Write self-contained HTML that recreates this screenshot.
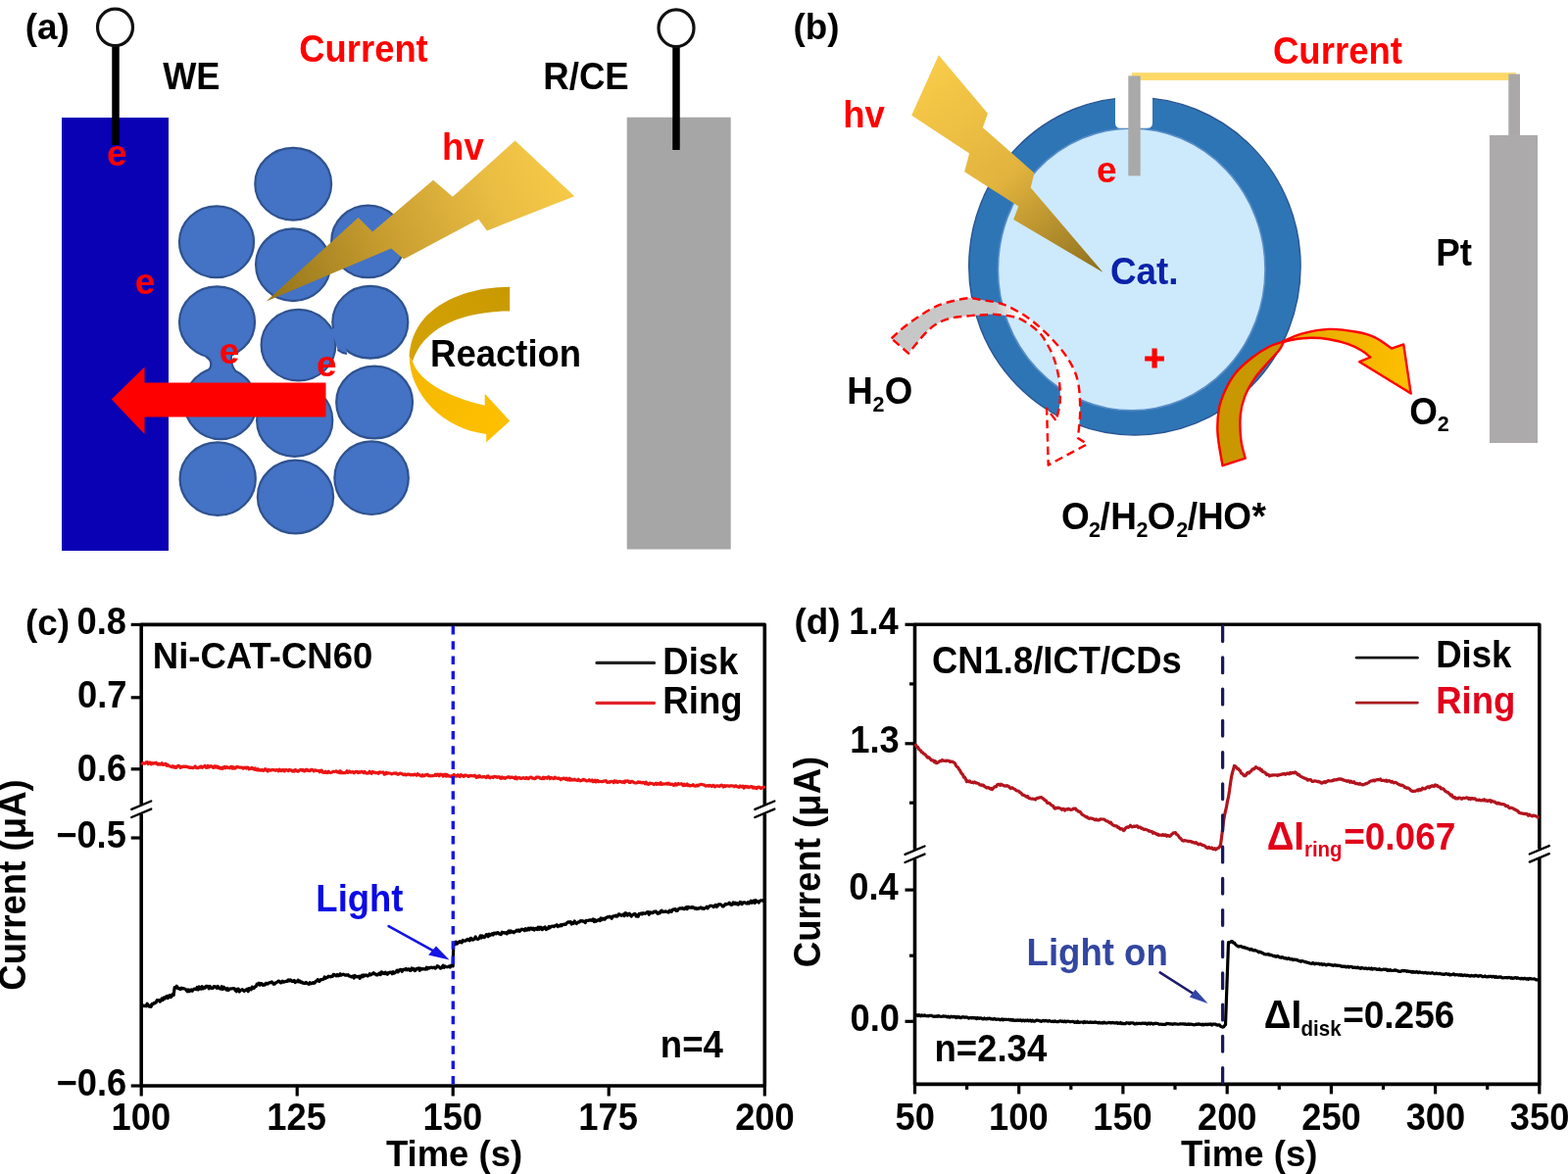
<!DOCTYPE html>
<html><head><meta charset="utf-8"><title>Figure</title>
<style>html,body{margin:0;padding:0;background:#fff;width:1600px;height:1198px;overflow:hidden}svg{display:block;filter:blur(0.35px)}</style>
</head><body>
<svg width="1600" height="1198" viewBox="0 0 1600 1198" font-family="'Liberation Sans', Arial, sans-serif" font-weight="bold">
<rect width="1600" height="1198" fill="#fff"/>
<defs><linearGradient id="boltA" x1="272" y1="300" x2="586" y2="170" gradientUnits="userSpaceOnUse"><stop offset="0" stop-color="#94741a"/><stop offset="0.4" stop-color="#c99e30"/><stop offset="0.75" stop-color="#eabd43"/><stop offset="1" stop-color="#f8cb48"/></linearGradient><linearGradient id="boltB" x1="958" y1="60" x2="1125" y2="278" gradientUnits="userSpaceOnUse"><stop offset="0" stop-color="#f8cb48"/><stop offset="0.5" stop-color="#e2b33e"/><stop offset="1" stop-color="#8c6f1e"/></linearGradient><linearGradient id="orgB" x1="1310" y1="345" x2="1440" y2="380" gradientUnits="userSpaceOnUse"><stop offset="0" stop-color="#e3a800"/><stop offset="1" stop-color="#ffc000"/></linearGradient><linearGradient id="grayB" x1="905" y1="340" x2="1070" y2="330" gradientUnits="userSpaceOnUse"><stop offset="0" stop-color="#c6c6c6"/><stop offset="0.68" stop-color="#c9c9c9"/><stop offset="0.82" stop-color="#ffffff"/><stop offset="1" stop-color="#ffffff"/></linearGradient><linearGradient id="reactUp" x1="520" y1="300" x2="418" y2="365" gradientUnits="userSpaceOnUse"><stop offset="0" stop-color="#c99a00"/><stop offset="1" stop-color="#d4a206"/></linearGradient><linearGradient id="reactLo" x1="418" y1="370" x2="520" y2="440" gradientUnits="userSpaceOnUse"><stop offset="0" stop-color="#f5b800"/><stop offset="1" stop-color="#ffc000"/></linearGradient></defs>
<rect x="63" y="120" width="109" height="442" fill="#0a00b4"/>
<line x1="118" y1="46" x2="118" y2="148" stroke="#000" stroke-width="7.5"/>
<ellipse cx="117.5" cy="27.8" rx="18" ry="18.7" fill="#fff" stroke="#111" stroke-width="3.2"/>
<rect x="639.7" y="119.7" width="106" height="440.8" fill="#a6a6a6"/>
<line x1="690" y1="48" x2="690" y2="153" stroke="#000" stroke-width="7.5"/>
<ellipse cx="690" cy="28.7" rx="18" ry="18.8" fill="#fff" stroke="#111" stroke-width="3.2"/>
<ellipse cx="299.2" cy="187.7" rx="38.9" ry="36.9" fill="#4472c4" stroke="#2f528f" stroke-width="2.2"/>
<ellipse cx="221" cy="246.8" rx="38.0" ry="36.4" fill="#4472c4" stroke="#2f528f" stroke-width="2.2"/>
<ellipse cx="299.1" cy="270.2" rx="38.0" ry="36.9" fill="#4472c4" stroke="#2f528f" stroke-width="2.2"/>
<ellipse cx="375.6" cy="246.4" rx="37.4" ry="36.8" fill="#4472c4" stroke="#2f528f" stroke-width="2.2"/>
<ellipse cx="221.5" cy="328.8" rx="38.5" ry="36.4" fill="#4472c4" stroke="#2f528f" stroke-width="2.2"/>
<ellipse cx="304.5" cy="352.1" rx="37.9" ry="36.3" fill="#4472c4" stroke="#2f528f" stroke-width="2.2"/>
<ellipse cx="377.8" cy="328.8" rx="38.5" ry="36.9" fill="#4472c4" stroke="#2f528f" stroke-width="2.2"/>
<ellipse cx="225.1" cy="411.8" rx="36.7" ry="36.4" fill="#4472c4" stroke="#2f528f" stroke-width="2.2"/>
<ellipse cx="300.7" cy="428.9" rx="38.6" ry="36.9" fill="#4472c4" stroke="#2f528f" stroke-width="2.2"/>
<ellipse cx="382.1" cy="410.5" rx="38.9" ry="36.9" fill="#4472c4" stroke="#2f528f" stroke-width="2.2"/>
<ellipse cx="222.2" cy="488.6" rx="38.6" ry="37.3" fill="#4472c4" stroke="#2f528f" stroke-width="2.2"/>
<ellipse cx="301.5" cy="507" rx="38.6" ry="37.3" fill="#4472c4" stroke="#2f528f" stroke-width="2.2"/>
<ellipse cx="379.1" cy="487.7" rx="37.7" ry="37.3" fill="#4472c4" stroke="#2f528f" stroke-width="2.2"/>
<path d="M210,363.5 Q219,370 213,377.4 L215,383 L238,383 L240,378.5 Q235,371 236,362.5 L234,357 L212,357 Z" fill="#4472c4"/>
<path d="M210,363.5 Q219,370 213,377.4 M240,378.5 Q235,371 236,362.5" fill="none" stroke="#2f528f" stroke-width="2.2"/>
<path d="M337,336 L342.5,350 L344.5,357 Q349,360 354,361 L352,345 L347,333 Z" fill="#4472c4"/>
<path d="M344.5,357 Q349,360.5 354,361" fill="none" stroke="#2f528f" stroke-width="2.2"/>
<polygon points="271.7,307.4 365.6,222.0 380.1,236.4 442.1,183.7 461.9,200.7 525.6,143.4 586.2,200.3 496.9,235.4 488.4,223.7 411.9,264.5 399.2,253.4" fill="url(#boltA)"/>
<polygon points="113.8,407.5 147.5,374.5 147.5,390.5 332.5,390.5 332.5,425.5 147.5,425.5 147.5,443" fill="#ff0000"/>
<path d="M520.2,292.8 C470,293 420,315 417.7,364.1 L421,368.7 C432,335 470,317.6 520.2,317.6 Z" fill="url(#reactUp)"/>
<path d="M417.7,364.1 C418,402 452,438 496.2,443 L496.2,451.3 L520.2,429.5 L494.7,401.7 L494.7,413.7 C458,405 428,390 421,368.7 Z" fill="url(#reactLo)"/>
<text transform="translate(25.77,40.00) scale(1,1.0)" font-size="36.8" fill="#000">(a)</text>
<text transform="translate(166.16,91.30) scale(1,1.05)" font-size="36.2" fill="#000">WE</text>
<text transform="translate(305.31,62.60) scale(1,1.05)" font-size="36.4" fill="#ff0000">Current</text>
<text transform="translate(554.35,91.30) scale(1,1.05)" font-size="36.6" fill="#000">R/CE</text>
<text transform="translate(451.04,162.50) scale(1,1.05)" font-size="36.6" fill="#ff0000">hv</text>
<text transform="translate(439.06,374.00) scale(1,1.05)" font-size="36.5" fill="#000">Reaction</text>
<text transform="translate(109.05,168.50) scale(1,1.0)" font-size="37" fill="#ff0000">e</text>
<text transform="translate(137.75,299.50) scale(1,1.0)" font-size="37" fill="#ff0000">e</text>
<text transform="translate(223.85,371.00) scale(1,1.0)" font-size="37" fill="#ff0000">e</text>
<text transform="translate(323.05,383.50) scale(1,1.0)" font-size="37" fill="#ff0000">e</text>
<ellipse cx="1157.9" cy="271.7" rx="169.2" ry="172.3" fill="#2e75b6" stroke="#2a5592" stroke-width="1.4"/>
<ellipse cx="1154.7" cy="274.9" rx="136.3" ry="143.9" fill="#cde9fc" stroke="#5a8ec6" stroke-width="1.6"/>
<path d="M1138,95 L1138,125 Q1138,130.8 1143,130.8 L1171,130.8 Q1176,130.8 1176,125 L1176,95 Z" fill="#fff"/>
<rect x="1155" y="74.2" width="392" height="7.7" fill="#ffd966"/>
<rect x="1151.3" y="77.4" width="12.4" height="102" fill="#a9a9a9"/>
<rect x="1539.3" y="75.6" width="11.7" height="63" fill="#aaa8a8"/>
<rect x="1520" y="138" width="49" height="314" fill="#acaaaa"/>
<polygon points="957.8,56.3 1007.9,115.7 1002.9,130.2 1055.4,176.6 1051.7,191.6 1125.6,278.0 1034.2,224.1 1039.2,210.4 984.1,175.3 989.1,156.5 930.2,117.7" fill="url(#boltB)"/>
<path d="M909.6,345.4 C912.5,342.9 919.5,335.6 927.1,330.2 C934.7,324.8 945.5,317.0 955.2,312.7 C964.9,308.4 978.0,305.6 985.5,304.5 C993.0,303.4 993.6,304.8 1000.0,305.8 C1006.4,306.8 1015.9,307.7 1023.8,310.6 C1031.7,313.5 1040.4,318.6 1047.5,323.3 C1054.6,328.1 1060.5,333.3 1066.6,339.1 C1072.7,344.9 1079.2,352.0 1084.0,358.1 C1088.8,364.2 1092.3,369.8 1095.1,375.6 C1097.9,381.4 1099.4,386.1 1100.6,393.0 C1101.8,399.9 1102.1,410.2 1102.2,416.8 C1102.3,423.4 1101.8,427.6 1101.4,432.6 C1101.0,437.6 1100.1,444.5 1099.8,446.9 L1109.4,453.2 L1069.7,474.6 L1068.1,416.8 L1077.7,429.5 C1078.3,426.3 1081.1,417.3 1081.6,410.4 C1082.1,403.5 1081.7,395.4 1080.8,388.3 C1079.9,381.2 1078.2,374.1 1076.1,367.7 C1074.0,361.3 1071.0,355.2 1068.1,350.2 C1065.2,345.2 1063.3,341.7 1058.6,337.5 C1053.8,333.3 1046.7,327.7 1039.6,324.9 C1032.5,322.1 1022.4,321.4 1015.8,320.9 C1009.2,320.4 1004.3,321.5 1000.0,321.7 C995.7,321.9 995.7,321.5 990.2,322.1 C984.7,322.8 973.8,323.3 966.8,325.6 C959.8,327.9 954.8,330.3 948.2,336.1 C941.6,341.9 930.6,356.5 927.1,360.6 Z" fill="url(#grayB)" stroke="#ff0000" stroke-width="2.4" stroke-dasharray="8.5 5" stroke-linejoin="round"/>
<path d="M1247.5,475.2 C1246.7,469.8 1243.1,452.2 1242.5,442.6 C1241.9,433.0 1242.5,424.9 1243.8,417.6 C1245.0,410.3 1247.1,405.1 1250.0,398.8 C1252.9,392.6 1256.7,385.7 1261.3,380.1 C1265.9,374.5 1272.0,369.4 1277.6,365.0 C1283.2,360.6 1289.7,356.6 1295.1,353.8 C1300.5,351.1 1307.5,349.4 1310.0,348.5 C1309.2,350.0 1308.0,353.7 1305.1,357.5 C1302.2,361.3 1296.8,366.5 1292.6,371.3 C1288.4,376.1 1283.9,380.7 1280.1,386.3 C1276.3,391.9 1272.4,398.8 1270.0,405.1 C1267.6,411.4 1266.3,416.6 1265.7,423.9 C1265.1,431.2 1265.5,441.6 1266.3,448.9 C1267.1,456.2 1270.0,464.6 1270.7,467.7 Z" fill="#c99700" stroke="#ff0000" stroke-width="2.4" stroke-linejoin="round"/>
<path d="M1309.4,348.1 C1312.5,346.9 1320.3,342.6 1328.1,340.6 C1335.9,338.6 1346.8,336.2 1356.2,335.9 C1365.6,335.6 1376.6,337.3 1384.4,338.8 C1392.2,340.2 1397.2,341.6 1403.1,344.4 C1409.0,347.2 1417.2,353.7 1420.0,355.6 L1432.2,351.4 L1439.7,401.6 L1387.2,369.2 L1398.4,364.5 C1396.9,363.3 1393.0,359.8 1389.1,357.5 C1385.2,355.2 1380.5,352.8 1375.0,350.9 C1369.5,349.0 1362.5,347.3 1356.2,346.2 C1350.0,345.2 1343.7,344.7 1337.5,344.8 C1331.3,344.9 1323.4,346.0 1318.8,346.7 C1314.1,347.4 1311.0,348.6 1309.4,349.0 Z" fill="url(#orgB)" stroke="#ff0000" stroke-width="2.4" stroke-linejoin="round"/>
<text transform="translate(809.57,40.00) scale(1,1.0)" font-size="36.8" fill="#000">(b)</text>
<text transform="translate(860.24,129.70) scale(1,1.05)" font-size="36.6" fill="#ff0000">hv</text>
<text transform="translate(1298.90,64.90) scale(1,1.05)" font-size="36.6" fill="#ff0000">Current</text>
<text transform="translate(1119.05,186.20) scale(1,1.0)" font-size="37" fill="#ff0000">e</text>
<text transform="translate(1132.99,289.70) scale(1,1.05)" font-size="36.8" fill="#0b22aa">Cat.</text>
<text x="1167.25" y="378.0" font-size="37" fill="#ff0000" stroke="#ff0000" stroke-width="1.1">+</text>
<text transform="translate(1465.24,270.50) scale(1,1.05)" font-size="36.8" fill="#000">Pt</text>
<text transform="translate(864.34,412.00) scale(1,1.05)" font-size="36.7" fill="#000">H</text>
<text transform="translate(890.55,419.70) scale(1,1.05)" font-size="21.5" fill="#000">2</text>
<text transform="translate(902.69,412.00) scale(1,1.05)" font-size="36.7" fill="#000">O</text>
<text transform="translate(1438.29,433.40) scale(1,1.05)" font-size="36.8" fill="#000">O</text>
<text transform="translate(1466.65,440.40) scale(1,1.05)" font-size="21.5" fill="#000">2</text>
<text transform="translate(1082.88,539.90) scale(1,1.05)" font-size="37" fill="#000">O</text>
<text transform="translate(1111.05,547.90) scale(1,1.05)" font-size="21.5" fill="#000">2</text>
<text transform="translate(1122.44,539.90) scale(1,1.05)" font-size="37" fill="#000">/</text>
<text transform="translate(1133.32,539.90) scale(1,1.05)" font-size="37" fill="#000">H</text>
<text transform="translate(1159.55,547.90) scale(1,1.05)" font-size="21.5" fill="#000">2</text>
<text transform="translate(1170.78,539.90) scale(1,1.05)" font-size="37" fill="#000">O</text>
<text transform="translate(1200.35,547.90) scale(1,1.05)" font-size="21.5" fill="#000">2</text>
<text transform="translate(1211.74,539.90) scale(1,1.05)" font-size="37" fill="#000">/</text>
<text transform="translate(1221.92,539.90) scale(1,1.05)" font-size="37" fill="#000">H</text>
<text transform="translate(1248.18,539.90) scale(1,1.05)" font-size="37" fill="#000">O</text>
<text transform="translate(1277.59,539.90) scale(1,1.05)" font-size="37" fill="#000">*</text>
<path d="M144.2,1108 L144.2,637.4 L780.3,637.4 L780.3,1108 Z" fill="none" stroke="#000" stroke-width="3.6" stroke-linejoin="round"/>
<g stroke="#000" stroke-width="3.2" fill="none">
<line x1="144.2" y1="1108" x2="144.2" y2="1118.5"/>
<line x1="303.2" y1="1108" x2="303.2" y2="1118.5"/>
<line x1="462.2" y1="1108" x2="462.2" y2="1118.5"/>
<line x1="621.2" y1="1108" x2="621.2" y2="1118.5"/>
<line x1="780.3" y1="1108" x2="780.3" y2="1118.5"/>
<line x1="133.7" y1="637.4" x2="144.2" y2="637.4"/>
<line x1="133.7" y1="711.8" x2="144.2" y2="711.8"/>
<line x1="133.7" y1="784.8" x2="144.2" y2="784.8"/>
<line x1="133.7" y1="855" x2="144.2" y2="855"/>
<line x1="133.7" y1="1108" x2="144.2" y2="1108"/>
</g>
<line x1="144.2" y1="820.9" x2="144.2" y2="830.4" stroke="#fff" stroke-width="5"/>
<g stroke="#000" stroke-width="2.4" stroke-linecap="round"><line x1="134.2" y1="825.9" x2="154.2" y2="817.5"/><line x1="134.2" y1="834.0" x2="154.2" y2="825.6"/></g>
<line x1="780.3" y1="820.9" x2="780.3" y2="830.4" stroke="#fff" stroke-width="5"/>
<g stroke="#000" stroke-width="2.4" stroke-linecap="round"><line x1="770.3" y1="825.9" x2="790.3" y2="817.5"/><line x1="770.3" y1="834.0" x2="790.3" y2="825.6"/></g>
<text transform="translate(113.52,1152.70) scale(1,1.05)" font-size="36.3" fill="#000">100</text>
<text transform="translate(272.28,1152.70) scale(1,1.05)" font-size="36.3" fill="#000">125</text>
<text transform="translate(431.52,1152.70) scale(1,1.05)" font-size="36.3" fill="#000">150</text>
<text transform="translate(590.28,1152.70) scale(1,1.05)" font-size="36.3" fill="#000">175</text>
<text transform="translate(750.13,1152.70) scale(1,1.05)" font-size="36.3" fill="#000">200</text>
<text transform="translate(78.55,646.80) scale(1,1.05)" font-size="36.3" fill="#000">0.8</text>
<text transform="translate(79.03,722.00) scale(1,1.05)" font-size="36.3" fill="#000">0.7</text>
<text transform="translate(78.75,797.00) scale(1,1.05)" font-size="36.3" fill="#000">0.6</text>
<text transform="translate(57.25,865.30) scale(1,1.05)" font-size="36.3" fill="#000">−0.5</text>
<text transform="translate(57.55,1118.10) scale(1,1.05)" font-size="36.3" fill="#000">−0.6</text>
<text transform="translate(25.97,647.50) scale(1,1.0)" font-size="36.8" fill="#000">(c)</text>
<text transform="translate(155.86,681.50) scale(1,1.02)" font-size="36.5" fill="#000">Ni-CAT-CN60</text>
<text transform="translate(676.37,687.70) scale(1,1.05)" font-size="36.4" fill="#000">Disk</text>
<text transform="translate(676.35,728.20) scale(1,1.05)" font-size="36.6" fill="#000">Ring</text>
<line x1="609" y1="676.4" x2="667.5" y2="676.4" stroke="#222" stroke-width="3.2" stroke-linecap="round"/>
<line x1="609" y1="717.3" x2="667.5" y2="717.3" stroke="#e22228" stroke-width="3.2" stroke-linecap="round"/>
<text transform="translate(673.79,1079.30) scale(1,1.05)" font-size="36.6" fill="#000">n=4</text>
<text transform="translate(322.36,930.20) scale(1,1.05)" font-size="36.5" fill="#0a0ae6">Light</text>
<text transform="translate(393.89,1190.00) scale(1,1.02)" font-size="36.5" fill="#000">Time (s)</text>
<text transform="translate(26.3,903) rotate(-90) scale(1,1.05)" font-size="36.6" text-anchor="middle" fill="#000">Current (μA)</text>
<polyline points="144.2,778.4 145.2,779.1 146.2,778.6 147.2,779.1 148.2,779.1 149.2,777.9 150.2,777.7 151.2,779.5 152.2,778.2 153.2,778.1 154.2,779.8 155.2,778.6 156.2,779.3 157.2,778.6 158.2,779.1 159.2,778.2 160.2,779.4 161.2,780.1 162.2,779.4 163.2,780.1 164.2,780.0 165.2,778.8 166.2,780.5 167.2,780.3 168.2,779.8 169.2,779.3 170.2,781.3 171.2,780.6 172.2,781.4 173.2,782.0 174.2,782.0 175.2,782.7 176.2,781.8 177.2,783.0 178.2,782.2 179.2,783.3 180.2,783.2 181.2,781.5 182.2,781.6 183.2,781.8 184.2,783.4 185.2,782.3 186.2,782.7 187.2,782.0 188.2,782.5 189.2,782.2 190.2,782.2 191.2,782.7 192.2,782.7 193.2,783.4 194.2,783.0 195.2,783.5 196.2,783.4 197.2,783.7 198.2,783.0 199.2,781.9 200.2,783.5 201.2,783.7 202.2,783.6 203.2,782.8 204.2,783.1 205.2,781.9 206.2,783.3 207.2,782.7 208.2,782.0 209.2,781.5 210.2,783.2 211.2,783.4 212.2,781.4 213.2,783.0 214.2,782.2 215.2,781.7 216.2,782.1 217.2,783.2 218.2,783.5 219.2,781.8 220.2,783.1 221.2,781.9 222.2,783.5 223.2,782.7 224.2,784.0 225.2,784.2 226.2,783.3 227.2,784.4 228.2,783.0 229.2,782.5 230.2,783.7 231.2,782.6 232.2,783.0 233.2,783.5 234.2,783.8 235.2,782.7 236.2,782.4 237.2,784.1 238.2,782.8 239.2,784.1 240.2,783.9 241.2,782.6 242.2,782.7 243.2,782.8 244.2,783.1 245.2,783.1 246.2,783.1 247.2,783.4 248.2,784.2 249.2,783.3 250.2,783.2 251.2,784.0 252.2,783.0 253.2,783.2 254.2,784.9 255.2,784.1 256.2,784.4 257.2,783.4 258.2,784.5 259.2,785.0 260.2,784.0 261.2,785.5 262.2,785.8 263.2,784.7 264.2,786.1 265.2,785.7 266.2,786.2 267.2,785.5 268.2,786.3 269.2,786.4 270.2,784.8 271.2,784.9 272.2,786.3 273.2,787.0 274.2,785.4 275.2,785.9 276.2,786.2 277.2,785.6 278.2,785.7 279.2,785.6 280.2,785.8 281.2,786.3 282.2,785.6 283.2,785.8 284.2,786.7 285.2,785.1 286.2,786.3 287.2,786.7 288.2,785.7 289.2,785.6 290.2,786.9 291.2,785.6 292.2,785.5 293.2,786.1 294.2,786.7 295.2,785.4 296.2,785.9 297.2,785.9 298.2,787.0 299.2,786.2 300.2,787.1 301.2,785.6 302.2,786.0 303.2,786.7 304.2,787.2 305.2,786.3 306.2,785.7 307.2,785.4 308.2,786.3 309.2,785.5 310.2,786.8 311.2,786.8 312.2,785.3 313.2,785.4 314.2,786.5 315.2,786.1 316.2,786.6 317.2,785.6 318.2,785.3 319.2,785.7 320.2,786.9 321.2,785.9 322.2,786.1 323.2,786.4 324.2,786.5 325.2,786.6 326.2,787.8 327.2,786.2 328.2,786.0 329.2,788.1 330.2,788.1 331.2,788.4 332.2,787.3 333.2,788.5 334.2,788.6 335.2,787.1 336.2,788.3 337.2,788.5 338.2,788.2 339.2,787.8 340.2,787.3 341.2,787.5 342.2,787.2 343.2,786.8 344.2,788.0 345.2,787.3 346.2,788.5 347.2,786.8 348.2,788.7 349.2,788.2 350.2,788.7 351.2,788.7 352.2,788.7 353.2,788.0 354.2,786.7 355.2,788.3 356.2,787.1 357.2,787.4 358.2,788.2 359.2,787.9 360.2,787.6 361.2,788.8 362.2,788.0 363.2,787.5 364.2,787.3 365.2,788.6 366.2,787.7 367.2,788.4 368.2,787.5 369.2,787.3 370.2,788.1 371.2,788.7 372.2,787.4 373.2,788.8 374.2,789.1 375.2,788.9 376.2,789.0 377.2,787.3 378.2,788.7 379.2,789.3 380.2,787.5 381.2,788.1 382.2,788.1 383.2,788.7 384.2,788.6 385.2,788.7 386.2,789.4 387.2,787.8 388.2,788.0 389.2,788.2 390.2,788.2 391.2,788.1 392.2,790.2 393.2,790.0 394.2,788.3 395.2,789.3 396.2,788.9 397.2,789.0 398.2,789.1 399.2,789.8 400.2,789.7 401.2,789.3 402.2,788.9 403.2,789.3 404.2,788.9 405.2,789.9 406.2,790.3 407.2,789.6 408.2,789.0 409.2,789.2 410.2,789.7 411.2,790.3 412.2,790.7 413.2,789.9 414.2,790.9 415.2,790.5 416.2,790.1 417.2,790.1 418.2,790.4 419.2,790.9 420.2,790.3 421.2,791.0 422.2,790.5 423.2,790.1 424.2,790.8 425.2,791.2 426.2,789.8 427.2,790.7 428.2,790.7 429.2,791.7 430.2,791.9 431.2,790.7 432.2,791.8 433.2,791.6 434.2,790.5 435.2,790.9 436.2,790.2 437.2,791.7 438.2,791.4 439.2,791.9 440.2,791.7 441.2,791.5 442.2,791.6 443.2,791.3 444.2,790.3 445.2,791.3 446.2,790.1 447.2,790.4 448.2,791.8 449.2,790.2 450.2,790.3 451.2,790.4 452.2,792.1 453.2,790.6 454.2,790.2 455.2,792.1 456.2,790.5 457.2,792.1 458.2,791.7 459.2,792.1 460.2,792.4 461.2,791.6 462.2,792.1 463.2,790.4 464.2,792.0 465.2,791.5 466.2,792.0 467.2,790.7 468.2,792.1 469.2,792.5 470.2,790.6 471.2,791.2 472.2,791.8 473.2,792.4 474.2,791.1 475.2,791.0 476.2,791.2 477.2,792.0 478.2,792.4 479.2,791.6 480.2,791.6 481.2,791.7 482.2,791.7 483.2,791.9 484.2,791.2 485.2,792.2 486.2,793.3 487.2,792.1 488.2,792.9 489.2,791.6 490.2,792.8 491.2,793.0 492.2,792.9 493.2,792.6 494.2,792.6 495.2,793.0 496.2,793.6 497.2,792.0 498.2,791.9 499.2,793.4 500.2,793.8 501.2,793.0 502.2,792.9 503.2,793.5 504.2,792.4 505.2,792.6 506.2,792.5 507.2,793.4 508.2,792.9 509.2,792.7 510.2,793.8 511.2,794.4 512.2,793.0 513.2,794.0 514.2,793.4 515.2,794.4 516.2,793.9 517.2,793.2 518.2,793.1 519.2,792.7 520.2,793.7 521.2,793.4 522.2,793.0 523.2,793.4 524.2,793.3 525.2,794.3 526.2,792.9 527.2,794.8 528.2,793.7 529.2,793.9 530.2,793.6 531.2,794.4 532.2,794.4 533.2,793.8 534.2,793.7 535.2,794.2 536.2,794.5 537.2,793.5 538.2,794.2 539.2,794.7 540.2,793.6 541.2,793.1 542.2,793.1 543.2,794.2 544.2,794.1 545.2,794.7 546.2,794.5 547.2,793.1 548.2,793.0 549.2,793.2 550.2,793.0 551.2,794.2 552.2,794.5 553.2,794.6 554.2,793.2 555.2,794.5 556.2,793.3 557.2,793.5 558.2,794.2 559.2,792.9 560.2,792.9 561.2,794.6 562.2,793.5 563.2,793.7 564.2,794.3 565.2,794.6 566.2,793.1 567.2,793.9 568.2,794.2 569.2,794.4 570.2,793.9 571.2,794.7 572.2,795.6 573.2,794.4 574.2,794.9 575.2,794.0 576.2,794.4 577.2,795.3 578.2,794.2 579.2,795.9 580.2,796.0 581.2,794.3 582.2,796.2 583.2,795.1 584.2,796.0 585.2,796.0 586.2,795.1 587.2,796.0 588.2,796.0 589.2,796.4 590.2,795.3 591.2,796.4 592.2,796.9 593.2,796.4 594.2,796.1 595.2,795.3 596.2,796.2 597.2,795.9 598.2,796.8 599.2,796.8 600.2,796.6 601.2,795.8 602.2,796.9 603.2,796.9 604.2,796.0 605.2,797.7 606.2,797.2 607.2,796.1 608.2,797.9 609.2,796.3 610.2,796.8 611.2,797.7 612.2,797.5 613.2,797.5 614.2,797.7 615.2,797.4 616.2,797.1 617.2,796.9 618.2,796.7 619.2,798.2 620.2,798.4 621.2,797.9 622.2,798.3 623.2,797.5 624.2,797.3 625.2,797.5 626.2,798.6 627.2,796.8 628.2,797.8 629.2,797.2 630.2,798.4 631.2,797.5 632.2,797.4 633.2,797.6 634.2,797.9 635.2,798.4 636.2,797.5 637.2,798.6 638.2,796.9 639.2,797.3 640.2,796.9 641.2,797.0 642.2,798.5 643.2,798.5 644.2,797.4 645.2,797.4 646.2,798.0 647.2,798.8 648.2,799.0 649.2,799.0 650.2,798.7 651.2,797.8 652.2,798.4 653.2,798.0 654.2,798.8 655.2,799.0 656.2,798.3 657.2,798.5 658.2,799.7 659.2,798.1 660.2,799.9 661.2,800.2 662.2,800.3 663.2,799.1 664.2,799.5 665.2,799.6 666.2,799.8 667.2,800.6 668.2,800.0 669.2,799.2 670.2,800.4 671.2,799.6 672.2,799.9 673.2,800.3 674.2,798.7 675.2,800.4 676.2,800.2 677.2,799.9 678.2,800.0 679.2,799.9 680.2,799.4 681.2,800.1 682.2,799.1 683.2,800.2 684.2,800.5 685.2,800.1 686.2,800.4 687.2,801.3 688.2,801.2 689.2,799.6 690.2,801.1 691.2,800.7 692.2,799.5 693.2,800.2 694.2,800.0 695.2,799.7 696.2,800.7 697.2,801.6 698.2,800.3 699.2,801.6 700.2,801.2 701.2,800.0 702.2,801.7 703.2,801.2 704.2,801.9 705.2,801.5 706.2,801.6 707.2,800.7 708.2,801.8 709.2,802.1 710.2,802.0 711.2,801.1 712.2,801.9 713.2,801.3 714.2,800.5 715.2,800.4 716.2,800.5 717.2,800.8 718.2,800.8 719.2,801.6 720.2,802.1 721.2,801.8 722.2,801.5 723.2,802.1 724.2,801.4 725.2,801.8 726.2,802.4 727.2,801.7 728.2,801.3 729.2,802.9 730.2,802.5 731.2,801.8 732.2,801.8 733.2,802.2 734.2,802.4 735.2,801.6 736.2,801.2 737.2,801.7 738.2,803.0 739.2,801.6 740.2,802.4 741.2,801.8 742.2,801.9 743.2,801.9 744.2,802.4 745.2,801.9 746.2,801.7 747.2,801.9 748.2,802.0 749.2,802.8 750.2,801.9 751.2,801.8 752.2,802.8 753.2,802.8 754.2,803.4 755.2,802.0 756.2,802.9 757.2,802.9 758.2,802.1 759.2,804.2 760.2,802.6 761.2,802.4 762.2,803.2 763.2,802.6 764.2,803.7 765.2,803.1 766.2,802.6 767.2,802.5 768.2,804.0 769.2,803.1 770.2,804.2 771.2,803.6 772.2,804.6 773.2,803.3 774.2,803.2 775.2,803.3 776.2,804.5 777.2,804.2 778.2,803.6 779.2,803.1 780.2,804.4" fill="none" stroke="#ec1414" stroke-width="3.2" stroke-linejoin="round" />
<polyline points="144.2,1025.4 145.2,1025.8 146.2,1026.1 147.2,1026.6 148.2,1026.1 149.2,1026.8 150.2,1024.2 151.2,1025.6 152.2,1027.1 153.2,1026.3 154.2,1027.2 155.2,1024.3 156.2,1024.7 157.2,1023.4 158.2,1023.6 159.2,1023.0 160.2,1020.7 161.2,1020.8 162.2,1020.6 163.2,1022.1 164.2,1021.2 165.2,1018.9 166.2,1020.4 167.2,1018.0 168.2,1019.1 169.2,1017.2 170.2,1016.4 171.2,1018.6 172.2,1016.2 173.2,1015.7 174.2,1017.6 175.2,1016.7 176.2,1014.5 177.2,1015.4 178.2,1007.5 179.2,1007.8 180.2,1006.3 181.2,1008.3 182.2,1008.0 183.2,1009.2 184.2,1009.5 185.2,1008.1 186.2,1008.8 187.2,1008.6 188.2,1009.0 189.2,1009.2 190.2,1010.4 191.2,1011.7 192.2,1009.9 193.2,1011.7 194.2,1010.3 195.2,1009.9 196.2,1011.2 197.2,1009.9 198.2,1009.1 199.2,1009.3 200.2,1009.6 201.2,1007.4 202.2,1009.9 203.2,1007.0 204.2,1009.0 205.2,1009.2 206.2,1006.7 207.2,1008.9 208.2,1007.5 209.2,1008.1 210.2,1006.3 211.2,1006.3 212.2,1006.6 213.2,1008.8 214.2,1006.5 215.2,1008.1 216.2,1008.5 217.2,1008.4 218.2,1006.6 219.2,1006.7 220.2,1007.3 221.2,1008.2 222.2,1006.4 223.2,1008.4 224.2,1008.7 225.2,1009.1 226.2,1006.7 227.2,1009.6 228.2,1007.2 229.2,1008.1 230.2,1009.1 231.2,1010.1 232.2,1008.5 233.2,1010.4 234.2,1009.4 235.2,1008.9 236.2,1009.0 237.2,1008.7 238.2,1008.6 239.2,1008.9 240.2,1010.7 241.2,1011.7 242.2,1009.4 243.2,1009.1 244.2,1012.0 245.2,1010.6 246.2,1010.2 247.2,1009.7 248.2,1010.8 249.2,1011.5 250.2,1010.4 251.2,1010.3 252.2,1009.2 253.2,1011.7 254.2,1008.6 255.2,1009.4 256.2,1009.8 257.2,1007.1 258.2,1008.3 259.2,1008.4 260.2,1006.8 261.2,1006.7 262.2,1004.1 263.2,1004.5 264.2,1003.2 265.2,1005.2 266.2,1003.5 267.2,1003.8 268.2,1005.4 269.2,1004.8 270.2,1005.1 271.2,1003.4 272.2,1003.4 273.2,1004.1 274.2,1003.2 275.2,1002.6 276.2,1002.8 277.2,1001.9 278.2,1002.5 279.2,1004.3 280.2,1004.1 281.2,1003.0 282.2,1002.5 283.2,1001.9 284.2,1001.1 285.2,1001.5 286.2,1002.8 287.2,1002.8 288.2,1001.1 289.2,1002.2 290.2,1001.9 291.2,1001.5 292.2,1001.2 293.2,1001.3 294.2,999.9 295.2,1000.9 296.2,999.8 297.2,1000.5 298.2,1001.5 299.2,1001.4 300.2,1000.4 301.2,1002.5 302.2,1001.8 303.2,1001.7 304.2,1000.2 305.2,1001.9 306.2,1001.2 307.2,1002.6 308.2,1002.1 309.2,1003.3 310.2,1003.0 311.2,1003.6 312.2,1002.4 313.2,1003.4 314.2,1003.8 315.2,1004.3 316.2,1002.6 317.2,1003.8 318.2,1003.5 319.2,1002.7 320.2,1003.3 321.2,1002.9 322.2,1001.3 323.2,1001.0 324.2,999.6 325.2,1001.3 326.2,1001.3 327.2,999.5 328.2,999.7 329.2,999.4 330.2,999.1 331.2,997.0 332.2,998.4 333.2,997.4 334.2,997.3 335.2,996.2 336.2,996.5 337.2,996.8 338.2,996.3 339.2,996.5 340.2,994.3 341.2,994.6 342.2,995.3 343.2,995.9 344.2,994.5 345.2,995.8 346.2,995.5 347.2,993.8 348.2,995.2 349.2,994.6 350.2,994.2 351.2,994.6 352.2,995.2 353.2,994.9 354.2,995.1 355.2,994.7 356.2,996.1 357.2,996.0 358.2,996.8 359.2,996.9 360.2,995.9 361.2,998.0 362.2,995.5 363.2,996.8 364.2,996.5 365.2,997.0 366.2,996.3 367.2,998.4 368.2,996.7 369.2,995.3 370.2,996.7 371.2,994.8 372.2,995.8 373.2,994.9 374.2,995.3 375.2,996.1 376.2,995.3 377.2,993.8 378.2,994.9 379.2,994.3 380.2,993.5 381.2,992.7 382.2,994.0 383.2,993.9 384.2,995.0 385.2,995.0 386.2,993.9 387.2,993.1 388.2,994.6 389.2,991.9 390.2,992.2 391.2,993.5 392.2,993.6 393.2,992.1 394.2,993.6 395.2,994.3 396.2,992.7 397.2,992.8 398.2,992.1 399.2,992.0 400.2,993.7 401.2,991.6 402.2,993.1 403.2,992.6 404.2,991.4 405.2,990.1 406.2,991.9 407.2,990.2 408.2,989.6 409.2,989.3 410.2,991.3 411.2,989.7 412.2,989.1 413.2,989.6 414.2,988.5 415.2,989.9 416.2,989.3 417.2,988.8 418.2,990.3 419.2,990.3 420.2,987.9 421.2,989.4 422.2,988.5 423.2,990.5 424.2,990.0 425.2,988.3 426.2,988.3 427.2,987.9 428.2,990.4 429.2,988.2 430.2,989.1 431.2,988.6 432.2,989.0 433.2,988.8 434.2,989.1 435.2,987.1 436.2,988.9 437.2,987.4 438.2,988.0 439.2,987.3 440.2,987.1 441.2,987.7 442.2,987.4 443.2,987.0 444.2,988.1 445.2,987.5 446.2,985.7 447.2,986.3 448.2,986.8 449.2,988.1 450.2,987.9 451.2,986.8 452.2,985.1 453.2,987.3 454.2,986.1 455.2,986.5 456.2,986.8 457.2,986.4 458.2,985.9 459.2,987.1 460.2,985.3 461.2,984.9 462.2,985.9 462.8,962.2 463.2,962.4 464.2,963.7 465.2,961.1 466.2,963.1 467.2,962.4 468.2,961.3 469.2,960.6 470.2,961.8 471.2,962.0 472.2,959.5 473.2,960.2 474.2,960.2 475.2,959.9 476.2,959.1 477.2,958.4 478.2,959.4 479.2,959.8 480.2,957.4 481.2,957.6 482.2,959.1 483.2,958.8 484.2,958.2 485.2,956.0 486.2,957.9 487.2,958.4 488.2,958.2 489.2,957.1 490.2,954.8 491.2,957.0 492.2,954.9 493.2,955.9 494.2,956.6 495.2,955.6 496.2,953.6 497.2,953.9 498.2,955.7 499.2,953.2 500.2,954.4 501.2,953.7 502.2,952.8 503.2,954.0 504.2,952.1 505.2,952.2 506.2,952.8 507.2,951.8 508.2,951.6 509.2,953.0 510.2,953.3 511.2,953.6 512.2,951.2 513.2,952.0 514.2,951.5 515.2,952.2 516.2,951.7 517.2,952.9 518.2,951.0 519.2,949.9 520.2,951.7 521.2,949.9 522.2,951.2 523.2,950.7 524.2,951.7 525.2,950.5 526.2,950.6 527.2,949.3 528.2,950.1 529.2,949.0 530.2,950.4 531.2,949.5 532.2,948.2 533.2,948.4 534.2,948.6 535.2,949.6 536.2,947.7 537.2,949.2 538.2,948.9 539.2,947.1 540.2,948.8 541.2,947.0 542.2,947.0 543.2,948.4 544.2,947.2 545.2,949.1 546.2,947.8 547.2,947.3 548.2,948.6 549.2,946.2 550.2,948.3 551.2,946.2 552.2,946.4 553.2,948.7 554.2,947.8 555.2,946.4 556.2,946.0 557.2,948.5 558.2,947.5 559.2,947.7 560.2,945.4 561.2,946.7 562.2,945.6 563.2,945.0 564.2,945.1 565.2,945.7 566.2,944.7 567.2,944.6 568.2,943.6 569.2,945.5 570.2,944.7 571.2,944.9 572.2,943.6 573.2,944.6 574.2,943.4 575.2,943.4 576.2,943.1 577.2,943.4 578.2,942.1 579.2,941.1 580.2,940.8 581.2,941.2 582.2,940.6 583.2,943.0 584.2,941.7 585.2,942.4 586.2,940.0 587.2,941.4 588.2,942.5 589.2,941.6 590.2,940.9 591.2,940.9 592.2,939.7 593.2,939.8 594.2,939.7 595.2,940.3 596.2,940.2 597.2,941.6 598.2,939.3 599.2,939.5 600.2,939.4 601.2,938.9 602.2,939.1 603.2,938.8 604.2,939.4 605.2,937.9 606.2,940.5 607.2,938.6 608.2,940.2 609.2,939.3 610.2,939.1 611.2,938.3 612.2,939.6 613.2,937.0 614.2,938.5 615.2,937.2 616.2,938.2 617.2,938.2 618.2,936.4 619.2,936.3 620.2,935.6 621.2,936.0 622.2,935.2 623.2,935.9 624.2,937.3 625.2,935.2 626.2,934.8 627.2,935.0 628.2,934.1 629.2,935.2 630.2,934.9 631.2,932.9 632.2,932.9 633.2,933.9 634.2,934.4 635.2,933.5 636.2,932.9 637.2,934.6 638.2,931.7 639.2,932.0 640.2,934.2 641.2,933.1 642.2,932.1 643.2,933.7 644.2,935.1 645.2,933.7 646.2,933.3 647.2,932.6 648.2,932.5 649.2,935.1 650.2,933.9 651.2,935.3 652.2,932.4 653.2,932.8 654.2,932.0 655.2,932.9 656.2,931.7 657.2,932.1 658.2,932.3 659.2,931.8 660.2,930.9 661.2,930.6 662.2,933.3 663.2,930.8 664.2,931.7 665.2,931.3 666.2,931.6 667.2,930.2 668.2,930.7 669.2,930.0 670.2,931.2 671.2,932.3 672.2,931.2 673.2,931.9 674.2,929.8 675.2,929.1 676.2,930.6 677.2,930.3 678.2,930.5 679.2,929.8 680.2,930.4 681.2,930.6 682.2,931.1 683.2,929.1 684.2,929.4 685.2,930.4 686.2,928.4 687.2,927.9 688.2,928.4 689.2,927.6 690.2,929.5 691.2,929.5 692.2,927.8 693.2,927.1 694.2,926.8 695.2,927.1 696.2,926.5 697.2,927.4 698.2,927.7 699.2,926.5 700.2,925.8 701.2,927.6 702.2,925.5 703.2,925.9 704.2,926.1 705.2,926.3 706.2,925.4 707.2,926.3 708.2,926.0 709.2,927.2 710.2,926.6 711.2,927.6 712.2,926.8 713.2,927.1 714.2,926.5 715.2,926.0 716.2,927.1 717.2,926.6 718.2,927.4 719.2,926.7 720.2,926.5 721.2,925.2 722.2,926.8 723.2,925.4 724.2,924.5 725.2,924.2 726.2,924.4 727.2,924.5 728.2,925.6 729.2,924.3 730.2,923.4 731.2,925.4 732.2,924.6 733.2,922.9 734.2,922.8 735.2,922.9 736.2,923.4 737.2,924.8 738.2,924.9 739.2,923.7 740.2,922.4 741.2,922.9 742.2,922.5 743.2,922.3 744.2,921.2 745.2,922.8 746.2,923.4 747.2,923.0 748.2,921.0 749.2,922.2 750.2,921.1 751.2,922.6 752.2,921.7 753.2,923.1 754.2,922.5 755.2,920.4 756.2,920.9 757.2,922.6 758.2,921.1 759.2,920.9 760.2,920.9 761.2,921.7 762.2,922.1 763.2,920.8 764.2,922.0 765.2,920.8 766.2,919.3 767.2,921.3 768.2,920.1 769.2,918.9 770.2,921.6 771.2,918.7 772.2,920.2 773.2,919.9 774.2,921.0 775.2,919.5 776.2,918.9 777.2,919.0 778.2,918.7 779.2,919.7 780.2,919.0" fill="none" stroke="#000" stroke-width="3.2" stroke-linejoin="round" />
<line x1="462.3" y1="638.9" x2="462.3" y2="1106.5" stroke="#1616e4" stroke-width="3.4" stroke-dasharray="8.5 6.8"/>
<line x1="396.6" y1="945.1" x2="446" y2="972.3" stroke="#1414e6" stroke-width="2.6" stroke-linecap="round"/>
<polygon points="458.5,979.4 437.1,974.4 445,965.4" fill="#1414e6"/>
<path d="M933.5,1106.4 L933.5,637.3 L1570.8,637.3 L1570.8,1106.4 Z" fill="none" stroke="#000" stroke-width="3.6" stroke-linejoin="round"/>
<g stroke="#000" stroke-width="3.2" fill="none">
<line x1="933.5" y1="1106.4" x2="933.5" y2="1116.4"/>
<line x1="1039.7" y1="1106.4" x2="1039.7" y2="1116.4"/>
<line x1="1145.9" y1="1106.4" x2="1145.9" y2="1116.4"/>
<line x1="1252.2" y1="1106.4" x2="1252.2" y2="1116.4"/>
<line x1="1358.4" y1="1106.4" x2="1358.4" y2="1116.4"/>
<line x1="1464.6" y1="1106.4" x2="1464.6" y2="1116.4"/>
<line x1="1570.8" y1="1106.4" x2="1570.8" y2="1116.4"/>
<line x1="986.6" y1="1106.4" x2="986.6" y2="1111.9"/>
<line x1="1092.8" y1="1106.4" x2="1092.8" y2="1111.9"/>
<line x1="1199.0" y1="1106.4" x2="1199.0" y2="1111.9"/>
<line x1="1305.3" y1="1106.4" x2="1305.3" y2="1111.9"/>
<line x1="1411.5" y1="1106.4" x2="1411.5" y2="1111.9"/>
<line x1="1517.7" y1="1106.4" x2="1517.7" y2="1111.9"/>
<line x1="923.5" y1="637.3" x2="933.5" y2="637.3"/>
<line x1="923.5" y1="758.8" x2="933.5" y2="758.8"/>
<line x1="923.5" y1="908.1" x2="933.5" y2="908.1"/>
<line x1="923.5" y1="1042.3" x2="933.5" y2="1042.3"/>
<line x1="928.0" y1="697.9" x2="933.5" y2="697.9"/>
<line x1="928.0" y1="819.2" x2="933.5" y2="819.2"/>
<line x1="928.0" y1="975.2" x2="933.5" y2="975.2"/>
</g>
<line x1="933.5" y1="866.9" x2="933.5" y2="876.4" stroke="#fff" stroke-width="5"/>
<g stroke="#000" stroke-width="2.4" stroke-linecap="round"><line x1="923.5" y1="871.9" x2="943.5" y2="863.5"/><line x1="923.5" y1="880.0" x2="943.5" y2="871.6"/></g>
<line x1="1570.8" y1="866.5" x2="1570.8" y2="876.0" stroke="#fff" stroke-width="5"/>
<g stroke="#000" stroke-width="2.4" stroke-linecap="round"><line x1="1560.8" y1="871.5" x2="1580.8" y2="863.1"/><line x1="1560.8" y1="879.6" x2="1580.8" y2="871.2"/></g>
<text transform="translate(913.50,1152.70) scale(1,1.05)" font-size="36.3" fill="#000">50</text>
<text transform="translate(1009.04,1152.70) scale(1,1.05)" font-size="36.3" fill="#000">100</text>
<text transform="translate(1115.25,1152.70) scale(1,1.05)" font-size="36.3" fill="#000">150</text>
<text transform="translate(1221.98,1152.70) scale(1,1.05)" font-size="36.3" fill="#000">200</text>
<text transform="translate(1328.20,1152.70) scale(1,1.05)" font-size="36.3" fill="#000">250</text>
<text transform="translate(1434.63,1152.70) scale(1,1.05)" font-size="36.3" fill="#000">300</text>
<text transform="translate(1540.85,1152.70) scale(1,1.05)" font-size="36.3" fill="#000">350</text>
<text transform="translate(866.23,646.90) scale(1,1.05)" font-size="36.3" fill="#000">1.4</text>
<text transform="translate(867.35,768.40) scale(1,1.05)" font-size="36.3" fill="#000">1.3</text>
<text transform="translate(866.23,917.70) scale(1,1.05)" font-size="36.3" fill="#000">0.4</text>
<text transform="translate(867.53,1051.90) scale(1,1.05)" font-size="36.3" fill="#000">0.0</text>
<text transform="translate(810.47,647.00) scale(1,1.0)" font-size="36.8" fill="#000">(d)</text>
<text transform="translate(951.01,687.00) scale(1,1.05)" font-size="36.4" fill="#000">CN1.8/ICT/CDs</text>
<text transform="translate(1465.15,681.20) scale(1,1.05)" font-size="36.6" fill="#000">Disk</text>
<text transform="translate(1465.15,728.30) scale(1,1.05)" font-size="36.6" fill="#e2001a">Ring</text>
<line x1="1384.2" y1="671.2" x2="1446.4" y2="671.2" stroke="#111" stroke-width="2.8" stroke-linecap="round"/>
<line x1="1384.2" y1="717.1" x2="1446.4" y2="717.1" stroke="#a8141c" stroke-width="2.8" stroke-linecap="round"/>
<text transform="translate(953.39,1083.20) scale(1,1.05)" font-size="36.6" fill="#000">n=2.34</text>
<text transform="translate(1047.55,984.50) scale(1,1.05)" font-size="36.6" fill="#3346a0">Light on</text>
<text transform="translate(1205.09,1190.00) scale(1,1.02)" font-size="36.5" fill="#000">Time (s)</text>
<text transform="translate(836.7,879.5) rotate(-90) scale(1,1.05)" font-size="36.6" text-anchor="middle" fill="#000">Current (μA)</text>
<text transform="translate(1292.64,866.85) scale(1,1.05)" font-size="38.5" fill="#e2001a">ΔI</text>
<text transform="translate(1330.95,874.30) scale(1,1.05)" font-size="20.5" fill="#e2001a">ring</text>
<text transform="translate(1371.16,866.85) scale(1,1.05)" font-size="37" fill="#e2001a">=0.067</text>
<text transform="translate(1289.84,1048.80) scale(1,1.05)" font-size="38.5" fill="#000">ΔI</text>
<text transform="translate(1327.56,1056.70) scale(1,1.05)" font-size="20.5" fill="#000">disk</text>
<text transform="translate(1370.16,1048.80) scale(1,1.05)" font-size="37" fill="#000">=0.256</text>
<polyline points="933.5,759.2 934.5,760.1 935.5,762.1 936.5,762.3 937.5,764.3 938.5,765.2 939.5,765.9 940.5,767.7 941.5,767.8 942.5,769.2 943.5,769.5 944.5,770.4 945.5,771.7 946.5,773.2 947.5,772.7 948.5,773.5 949.5,774.7 950.5,775.8 951.5,775.8 952.5,776.1 953.5,777.7 954.5,776.8 955.5,778.7 956.5,778.4 957.5,777.8 958.5,777.0 959.5,776.6 960.5,776.6 961.5,775.4 962.5,776.2 963.5,776.4 964.5,776.2 965.5,776.6 966.5,776.0 967.5,776.2 968.5,776.6 969.5,777.5 970.5,777.2 971.5,777.2 972.5,777.8 973.5,778.0 974.5,779.1 975.5,781.2 976.5,782.4 977.5,783.0 978.5,784.9 979.5,786.1 980.5,788.3 981.5,789.6 982.5,790.5 983.5,793.1 984.5,793.3 985.5,795.4 986.5,797.5 987.5,796.9 988.5,797.6 989.5,797.0 990.5,798.1 991.5,798.4 992.5,798.2 993.5,798.8 994.5,798.0 995.5,798.8 996.5,798.9 997.5,799.3 998.5,799.5 999.5,800.6 1000.5,801.2 1001.5,800.9 1002.5,801.6 1003.5,801.1 1004.5,802.5 1005.5,802.9 1006.5,803.9 1007.5,804.0 1008.5,803.6 1009.5,804.2 1010.5,805.1 1011.5,804.5 1012.5,805.6 1013.5,804.3 1014.5,803.4 1015.5,802.5 1016.5,802.8 1017.5,800.9 1018.5,800.3 1019.5,800.4 1020.5,801.3 1021.5,800.2 1022.5,800.9 1023.5,801.2 1024.5,801.9 1025.5,801.9 1026.5,802.1 1027.5,801.5 1028.5,802.2 1029.5,802.6 1030.5,804.0 1031.5,804.6 1032.5,803.8 1033.5,804.3 1034.5,804.9 1035.5,805.4 1036.5,806.3 1037.5,807.0 1038.5,807.0 1039.5,807.2 1040.5,808.5 1041.5,809.0 1042.5,809.9 1043.5,811.2 1044.5,811.3 1045.5,811.7 1046.5,812.4 1047.5,813.1 1048.5,812.5 1049.5,814.3 1050.5,814.4 1051.5,815.0 1052.5,815.2 1053.5,815.0 1054.5,815.3 1055.5,815.3 1056.5,816.0 1057.5,814.7 1058.5,814.4 1059.5,814.3 1060.5,813.9 1061.5,813.8 1062.5,813.5 1063.5,814.2 1064.5,815.1 1065.5,815.8 1066.5,816.9 1067.5,817.1 1068.5,819.2 1069.5,819.5 1070.5,819.4 1071.5,820.3 1072.5,821.2 1073.5,821.9 1074.5,822.3 1075.5,824.1 1076.5,825.1 1077.5,824.4 1078.5,824.7 1079.5,824.2 1080.5,824.4 1081.5,825.0 1082.5,825.1 1083.5,826.2 1084.5,825.3 1085.5,825.3 1086.5,827.0 1087.5,826.3 1088.5,825.6 1089.5,826.1 1090.5,825.2 1091.5,825.9 1092.5,826.5 1093.5,826.2 1094.5,825.9 1095.5,825.1 1096.5,825.1 1097.5,825.1 1098.5,826.7 1099.5,827.1 1100.5,828.2 1101.5,828.2 1102.5,828.7 1103.5,830.4 1104.5,831.4 1105.5,831.9 1106.5,832.5 1107.5,833.2 1108.5,833.8 1109.5,833.7 1110.5,834.9 1111.5,835.4 1112.5,834.9 1113.5,835.0 1114.5,835.4 1115.5,835.5 1116.5,836.2 1117.5,836.7 1118.5,835.9 1119.5,836.8 1120.5,836.9 1121.5,836.9 1122.5,836.1 1123.5,835.9 1124.5,836.0 1125.5,836.0 1126.5,836.0 1127.5,836.8 1128.5,837.5 1129.5,838.0 1130.5,838.1 1131.5,839.0 1132.5,839.8 1133.5,839.2 1134.5,840.8 1135.5,841.8 1136.5,842.2 1137.5,842.7 1138.5,842.9 1139.5,842.9 1140.5,844.3 1141.5,844.1 1142.5,845.4 1143.5,846.1 1144.5,845.7 1145.5,846.2 1146.5,847.6 1147.5,846.7 1148.5,845.1 1149.5,844.4 1150.5,843.8 1151.5,844.3 1152.5,843.5 1153.5,842.3 1154.5,843.5 1155.5,843.9 1156.5,843.4 1157.5,843.1 1158.5,843.5 1159.5,842.9 1160.5,842.8 1161.5,844.5 1162.5,844.1 1163.5,844.1 1164.5,845.3 1165.5,845.0 1166.5,846.1 1167.5,846.6 1168.5,846.1 1169.5,846.6 1170.5,847.0 1171.5,847.3 1172.5,848.2 1173.5,848.0 1174.5,848.6 1175.5,848.5 1176.5,850.2 1177.5,849.6 1178.5,850.2 1179.5,850.7 1180.5,851.6 1181.5,851.2 1182.5,852.3 1183.5,852.0 1184.5,852.2 1185.5,852.3 1186.5,851.6 1187.5,852.4 1188.5,852.1 1189.5,851.9 1190.5,853.2 1191.5,852.3 1192.5,852.9 1193.5,853.4 1194.5,852.7 1195.5,851.4 1196.5,850.7 1197.5,849.8 1198.5,849.8 1199.5,849.7 1200.5,851.4 1201.5,851.9 1202.5,853.0 1203.5,854.8 1204.5,855.4 1205.5,856.5 1206.5,857.7 1207.5,858.1 1208.5,857.5 1209.5,858.0 1210.5,858.0 1211.5,858.1 1212.5,858.6 1213.5,858.4 1214.5,858.7 1215.5,858.7 1216.5,859.6 1217.5,859.4 1218.5,859.9 1219.5,860.3 1220.5,859.6 1221.5,860.5 1222.5,861.6 1223.5,861.8 1224.5,861.1 1225.5,861.5 1226.5,862.4 1227.5,862.3 1228.5,863.0 1229.5,863.1 1230.5,864.5 1231.5,865.0 1232.5,865.4 1233.5,864.4 1234.5,865.5 1235.5,865.6 1236.5,865.0 1237.5,866.3 1238.5,866.7 1239.5,865.7 1240.5,867.0 1241.5,866.3 1242.5,865.5 1243.5,865.3 1244.5,864.0 1245.5,862.0 1246.5,854.8 1247.5,846.6 1248.5,838.0 1249.5,832.2 1250.5,827.6 1251.5,823.4 1252.5,817.4 1253.5,813.4 1254.5,807.0 1255.5,799.5 1256.5,793.2 1257.5,788.6 1258.5,785.3 1259.5,781.5 1260.5,782.0 1261.5,782.9 1262.5,784.4 1263.5,784.3 1264.5,785.8 1265.5,786.6 1266.5,789.0 1267.5,789.4 1268.5,790.4 1269.5,791.6 1270.5,791.7 1271.5,790.8 1272.5,789.2 1273.5,788.3 1274.5,788.9 1275.5,787.6 1276.5,787.1 1277.5,785.5 1278.5,784.7 1279.5,785.0 1280.5,783.9 1281.5,782.6 1282.5,783.5 1283.5,783.7 1284.5,784.7 1285.5,784.2 1286.5,786.1 1287.5,785.6 1288.5,787.6 1289.5,787.6 1290.5,788.1 1291.5,789.2 1292.5,790.5 1293.5,790.1 1294.5,790.6 1295.5,791.9 1296.5,791.4 1297.5,791.1 1298.5,791.1 1299.5,790.8 1300.5,790.9 1301.5,791.0 1302.5,790.9 1303.5,791.5 1304.5,790.7 1305.5,790.9 1306.5,790.3 1307.5,790.5 1308.5,789.8 1309.5,790.0 1310.5,789.4 1311.5,790.4 1312.5,789.9 1313.5,789.1 1314.5,789.4 1315.5,789.9 1316.5,788.4 1317.5,789.3 1318.5,788.5 1319.5,788.4 1320.5,788.8 1321.5,787.9 1322.5,788.6 1323.5,789.6 1324.5,790.7 1325.5,790.4 1326.5,791.9 1327.5,792.4 1328.5,792.9 1329.5,793.3 1330.5,793.9 1331.5,794.1 1332.5,794.8 1333.5,794.9 1334.5,796.2 1335.5,795.6 1336.5,795.6 1337.5,795.7 1338.5,797.1 1339.5,797.4 1340.5,797.3 1341.5,796.8 1342.5,797.0 1343.5,797.3 1344.5,797.7 1345.5,797.4 1346.5,798.1 1347.5,798.0 1348.5,799.2 1349.5,799.0 1350.5,798.2 1351.5,797.6 1352.5,798.6 1353.5,797.4 1354.5,797.3 1355.5,796.6 1356.5,797.0 1357.5,797.0 1358.5,796.9 1359.5,796.3 1360.5,796.6 1361.5,795.7 1362.5,795.9 1363.5,795.5 1364.5,795.8 1365.5,795.1 1366.5,794.9 1367.5,795.2 1368.5,794.9 1369.5,795.6 1370.5,795.7 1371.5,796.3 1372.5,796.4 1373.5,796.8 1374.5,797.3 1375.5,796.8 1376.5,796.9 1377.5,798.2 1378.5,797.1 1379.5,798.3 1380.5,798.4 1381.5,797.7 1382.5,799.2 1383.5,799.6 1384.5,799.4 1385.5,799.8 1386.5,800.2 1387.5,799.4 1388.5,800.3 1389.5,800.5 1390.5,801.0 1391.5,800.6 1392.5,800.3 1393.5,799.6 1394.5,799.7 1395.5,799.0 1396.5,798.7 1397.5,797.6 1398.5,797.0 1399.5,796.8 1400.5,796.8 1401.5,796.1 1402.5,796.9 1403.5,796.1 1404.5,795.9 1405.5,795.6 1406.5,795.7 1407.5,795.6 1408.5,795.0 1409.5,796.4 1410.5,796.5 1411.5,796.3 1412.5,796.5 1413.5,796.9 1414.5,796.1 1415.5,797.4 1416.5,796.8 1417.5,796.7 1418.5,797.2 1419.5,798.1 1420.5,797.4 1421.5,798.4 1422.5,799.0 1423.5,798.4 1424.5,798.5 1425.5,799.2 1426.5,800.0 1427.5,800.6 1428.5,800.9 1429.5,801.4 1430.5,801.0 1431.5,801.6 1432.5,802.3 1433.5,803.6 1434.5,803.4 1435.5,804.3 1436.5,803.9 1437.5,804.5 1438.5,805.3 1439.5,806.5 1440.5,807.0 1441.5,807.5 1442.5,807.4 1443.5,807.4 1444.5,807.0 1445.5,806.7 1446.5,805.9 1447.5,806.8 1448.5,805.4 1449.5,806.3 1450.5,806.0 1451.5,804.2 1452.5,804.6 1453.5,804.9 1454.5,804.8 1455.5,803.6 1456.5,803.1 1457.5,802.8 1458.5,803.7 1459.5,802.3 1460.5,802.6 1461.5,801.7 1462.5,802.0 1463.5,802.5 1464.5,800.9 1465.5,801.8 1466.5,801.4 1467.5,802.7 1468.5,803.1 1469.5,803.1 1470.5,804.9 1471.5,804.9 1472.5,804.9 1473.5,805.6 1474.5,807.1 1475.5,807.7 1476.5,808.2 1477.5,808.6 1478.5,809.7 1479.5,810.3 1480.5,811.9 1481.5,811.3 1482.5,813.2 1483.5,814.0 1484.5,813.6 1485.5,814.9 1486.5,814.6 1487.5,815.0 1488.5,814.0 1489.5,814.2 1490.5,814.3 1491.5,815.3 1492.5,814.6 1493.5,814.3 1494.5,814.5 1495.5,814.3 1496.5,813.9 1497.5,814.1 1498.5,815.3 1499.5,814.4 1500.5,815.5 1501.5,814.6 1502.5,814.7 1503.5,815.2 1504.5,814.8 1505.5,815.3 1506.5,816.3 1507.5,816.3 1508.5,816.3 1509.5,816.2 1510.5,816.7 1511.5,816.9 1512.5,816.4 1513.5,816.8 1514.5,815.8 1515.5,817.1 1516.5,816.7 1517.5,817.3 1518.5,817.3 1519.5,816.8 1520.5,816.6 1521.5,818.2 1522.5,817.2 1523.5,818.0 1524.5,818.1 1525.5,818.4 1526.5,819.4 1527.5,820.0 1528.5,819.2 1529.5,820.1 1530.5,819.8 1531.5,820.6 1532.5,820.6 1533.5,820.5 1534.5,820.8 1535.5,821.2 1536.5,822.6 1537.5,822.3 1538.5,822.4 1539.5,824.0 1540.5,824.7 1541.5,824.3 1542.5,824.3 1543.5,824.9 1544.5,825.2 1545.5,826.1 1546.5,826.2 1547.5,827.0 1548.5,827.5 1549.5,828.5 1550.5,829.5 1551.5,829.8 1552.5,829.8 1553.5,830.0 1554.5,830.4 1555.5,830.4 1556.5,830.6 1557.5,830.3 1558.5,830.9 1559.5,832.2 1560.5,831.1 1561.5,831.9 1562.5,832.3 1563.5,832.9 1564.5,832.1 1565.5,832.4 1566.5,832.6 1567.5,833.0 1568.5,833.3 1569.5,834.3 1570.5,834.4" fill="none" stroke="#b3141e" stroke-width="3.2" stroke-linejoin="round" />
<polyline points="933.5,1036.0 934.5,1035.9 935.5,1035.7 936.5,1036.6 937.5,1035.6 938.5,1036.2 939.5,1036.8 940.5,1035.8 941.5,1036.4 942.5,1036.6 943.5,1035.9 944.5,1036.4 945.5,1036.8 946.5,1036.6 947.5,1036.9 948.5,1036.3 949.5,1036.4 950.5,1036.3 951.5,1036.9 952.5,1037.4 953.5,1037.0 954.5,1037.3 955.5,1036.9 956.5,1037.4 957.5,1036.6 958.5,1036.9 959.5,1037.4 960.5,1037.5 961.5,1037.2 962.5,1036.9 963.5,1037.1 964.5,1037.1 965.5,1037.2 966.5,1037.9 967.5,1037.2 968.5,1038.1 969.5,1038.1 970.5,1037.2 971.5,1037.6 972.5,1037.8 973.5,1037.3 974.5,1037.8 975.5,1038.5 976.5,1037.5 977.5,1038.2 978.5,1037.7 979.5,1038.2 980.5,1038.7 981.5,1037.9 982.5,1037.7 983.5,1037.8 984.5,1038.4 985.5,1037.9 986.5,1038.0 987.5,1038.5 988.5,1039.1 989.5,1038.5 990.5,1038.5 991.5,1038.9 992.5,1038.3 993.5,1038.9 994.5,1038.5 995.5,1039.0 996.5,1039.5 997.5,1038.5 998.5,1039.1 999.5,1039.3 1000.5,1038.8 1001.5,1039.0 1002.5,1039.9 1003.5,1039.9 1004.5,1038.9 1005.5,1039.7 1006.5,1040.0 1007.5,1039.2 1008.5,1039.7 1009.5,1039.1 1010.5,1039.5 1011.5,1040.0 1012.5,1039.9 1013.5,1040.2 1014.5,1039.4 1015.5,1039.8 1016.5,1040.5 1017.5,1040.2 1018.5,1040.1 1019.5,1040.1 1020.5,1040.8 1021.5,1040.4 1022.5,1039.8 1023.5,1040.8 1024.5,1040.2 1025.5,1040.4 1026.5,1040.2 1027.5,1040.5 1028.5,1040.4 1029.5,1040.2 1030.5,1040.9 1031.5,1040.3 1032.5,1041.2 1033.5,1040.4 1034.5,1041.3 1035.5,1041.4 1036.5,1041.1 1037.5,1041.4 1038.5,1040.8 1039.5,1041.5 1040.5,1041.1 1041.5,1040.9 1042.5,1041.8 1043.5,1041.2 1044.5,1041.2 1045.5,1041.8 1046.5,1041.2 1047.5,1041.6 1048.5,1041.0 1049.5,1041.9 1050.5,1041.2 1051.5,1041.0 1052.5,1042.1 1053.5,1041.2 1054.5,1042.1 1055.5,1042.2 1056.5,1041.8 1057.5,1041.1 1058.5,1041.2 1059.5,1041.4 1060.5,1041.6 1061.5,1041.9 1062.5,1042.4 1063.5,1041.7 1064.5,1041.4 1065.5,1042.0 1066.5,1041.5 1067.5,1041.4 1068.5,1042.0 1069.5,1042.2 1070.5,1041.5 1071.5,1042.0 1072.5,1042.3 1073.5,1042.4 1074.5,1042.0 1075.5,1042.6 1076.5,1041.8 1077.5,1042.5 1078.5,1042.6 1079.5,1042.7 1080.5,1042.3 1081.5,1041.9 1082.5,1041.8 1083.5,1042.4 1084.5,1042.0 1085.5,1042.6 1086.5,1042.0 1087.5,1042.8 1088.5,1042.2 1089.5,1042.0 1090.5,1042.2 1091.5,1042.6 1092.5,1042.7 1093.5,1042.5 1094.5,1042.3 1095.5,1042.7 1096.5,1043.3 1097.5,1042.8 1098.5,1043.4 1099.5,1042.3 1100.5,1043.5 1101.5,1043.4 1102.5,1043.0 1103.5,1043.0 1104.5,1043.0 1105.5,1043.5 1106.5,1042.5 1107.5,1043.3 1108.5,1043.2 1109.5,1042.9 1110.5,1043.5 1111.5,1043.5 1112.5,1042.8 1113.5,1043.5 1114.5,1043.2 1115.5,1043.3 1116.5,1043.5 1117.5,1042.8 1118.5,1043.5 1119.5,1043.3 1120.5,1043.9 1121.5,1043.2 1122.5,1043.9 1123.5,1043.8 1124.5,1043.7 1125.5,1044.1 1126.5,1043.1 1127.5,1043.8 1128.5,1043.8 1129.5,1044.0 1130.5,1043.7 1131.5,1043.3 1132.5,1043.5 1133.5,1044.0 1134.5,1043.5 1135.5,1043.4 1136.5,1043.8 1137.5,1043.9 1138.5,1044.0 1139.5,1043.4 1140.5,1044.4 1141.5,1043.9 1142.5,1044.4 1143.5,1043.5 1144.5,1044.6 1145.5,1044.2 1146.5,1044.7 1147.5,1044.7 1148.5,1044.6 1149.5,1043.7 1150.5,1044.0 1151.5,1043.9 1152.5,1044.6 1153.5,1043.9 1154.5,1043.9 1155.5,1043.8 1156.5,1043.8 1157.5,1044.8 1158.5,1044.9 1159.5,1044.2 1160.5,1044.7 1161.5,1044.3 1162.5,1044.4 1163.5,1044.3 1164.5,1044.6 1165.5,1044.1 1166.5,1044.2 1167.5,1044.5 1168.5,1044.1 1169.5,1044.4 1170.5,1045.1 1171.5,1044.0 1172.5,1044.1 1173.5,1044.9 1174.5,1044.1 1175.5,1044.3 1176.5,1045.1 1177.5,1044.8 1178.5,1044.3 1179.5,1044.2 1180.5,1044.4 1181.5,1044.5 1182.5,1045.1 1183.5,1045.3 1184.5,1045.1 1185.5,1045.3 1186.5,1045.3 1187.5,1045.3 1188.5,1045.3 1189.5,1045.4 1190.5,1044.4 1191.5,1044.7 1192.5,1044.6 1193.5,1045.0 1194.5,1044.9 1195.5,1044.8 1196.5,1045.4 1197.5,1044.9 1198.5,1044.7 1199.5,1044.8 1200.5,1045.0 1201.5,1045.2 1202.5,1045.2 1203.5,1045.0 1204.5,1044.7 1205.5,1045.0 1206.5,1044.9 1207.5,1044.8 1208.5,1045.2 1209.5,1044.8 1210.5,1045.5 1211.5,1045.4 1212.5,1044.8 1213.5,1045.4 1214.5,1045.1 1215.5,1045.2 1216.5,1045.4 1217.5,1045.6 1218.5,1045.8 1219.5,1045.6 1220.5,1045.0 1221.5,1045.4 1222.5,1045.1 1223.5,1044.8 1224.5,1045.4 1225.5,1045.3 1226.5,1045.8 1227.5,1045.2 1228.5,1045.8 1229.5,1045.4 1230.5,1045.0 1231.5,1045.7 1232.5,1045.2 1233.5,1045.5 1234.5,1045.0 1235.5,1044.9 1236.5,1046.0 1237.5,1045.0 1238.5,1045.1 1239.5,1045.1 1240.5,1045.1 1241.5,1046.0 1242.5,1046.2 1243.5,1045.8 1244.5,1045.8 1245.5,1047.3 1246.5,1047.7 1247.5,1048.1 1248.5,1047.9 1249.5,1046.7 1250.5,1045.7 1251.5,1017.8 1252.5,989.9 1253.5,961.6 1254.5,961.6 1255.5,961.4 1256.5,960.6 1257.5,960.6 1258.5,962.2 1259.5,962.1 1260.5,963.4 1261.5,964.6 1262.5,965.1 1263.5,965.9 1264.5,966.0 1265.5,965.6 1266.5,965.7 1267.5,966.3 1268.5,966.9 1269.5,966.6 1270.5,966.9 1271.5,967.7 1272.5,967.6 1273.5,968.2 1274.5,968.4 1275.5,969.1 1276.5,968.4 1277.5,968.8 1278.5,969.8 1279.5,970.0 1280.5,969.6 1281.5,970.0 1282.5,970.3 1283.5,971.0 1284.5,971.8 1285.5,971.2 1286.5,971.5 1287.5,972.4 1288.5,972.4 1289.5,973.2 1290.5,973.7 1291.5,973.9 1292.5,973.9 1293.5,973.9 1294.5,973.6 1295.5,974.7 1296.5,974.4 1297.5,974.7 1298.5,975.1 1299.5,975.7 1300.5,975.4 1301.5,976.1 1302.5,976.3 1303.5,975.5 1304.5,976.0 1305.5,976.8 1306.5,976.9 1307.5,977.3 1308.5,976.6 1309.5,977.2 1310.5,977.9 1311.5,977.6 1312.5,978.0 1313.5,978.6 1314.5,977.8 1315.5,977.9 1316.5,979.0 1317.5,978.9 1318.5,978.6 1319.5,979.6 1320.5,979.1 1321.5,979.2 1322.5,979.6 1323.5,979.4 1324.5,980.1 1325.5,980.7 1326.5,980.5 1327.5,981.4 1328.5,980.5 1329.5,980.8 1330.5,981.0 1331.5,981.7 1332.5,981.5 1333.5,982.2 1334.5,982.2 1335.5,982.5 1336.5,983.0 1337.5,983.2 1338.5,983.4 1339.5,982.6 1340.5,983.0 1341.5,983.8 1342.5,983.2 1343.5,983.2 1344.5,983.5 1345.5,983.2 1346.5,984.1 1347.5,984.0 1348.5,983.4 1349.5,984.6 1350.5,984.1 1351.5,983.9 1352.5,984.5 1353.5,985.0 1354.5,984.3 1355.5,984.0 1356.5,984.4 1357.5,984.3 1358.5,985.0 1359.5,984.8 1360.5,985.5 1361.5,984.9 1362.5,984.7 1363.5,985.4 1364.5,985.1 1365.5,985.4 1366.5,985.4 1367.5,985.4 1368.5,986.1 1369.5,986.5 1370.5,986.0 1371.5,986.4 1372.5,986.1 1373.5,986.9 1374.5,986.6 1375.5,986.1 1376.5,987.0 1377.5,986.5 1378.5,986.4 1379.5,986.5 1380.5,987.5 1381.5,987.5 1382.5,987.1 1383.5,987.4 1384.5,987.7 1385.5,987.0 1386.5,987.8 1387.5,987.9 1388.5,988.3 1389.5,987.3 1390.5,988.0 1391.5,988.0 1392.5,988.4 1393.5,987.9 1394.5,988.4 1395.5,988.7 1396.5,988.1 1397.5,988.4 1398.5,988.9 1399.5,988.0 1400.5,989.2 1401.5,988.5 1402.5,988.7 1403.5,988.6 1404.5,989.3 1405.5,989.0 1406.5,989.4 1407.5,988.7 1408.5,989.7 1409.5,989.7 1410.5,989.6 1411.5,989.1 1412.5,989.2 1413.5,989.5 1414.5,989.1 1415.5,990.3 1416.5,989.7 1417.5,990.4 1418.5,989.6 1419.5,990.2 1420.5,990.5 1421.5,990.4 1422.5,990.2 1423.5,989.8 1424.5,990.3 1425.5,990.3 1426.5,991.1 1427.5,991.2 1428.5,991.3 1429.5,991.4 1430.5,990.5 1431.5,990.4 1432.5,990.8 1433.5,990.5 1434.5,990.7 1435.5,991.3 1436.5,990.9 1437.5,991.5 1438.5,991.3 1439.5,991.3 1440.5,992.2 1441.5,991.3 1442.5,992.2 1443.5,991.9 1444.5,992.1 1445.5,991.5 1446.5,992.3 1447.5,992.6 1448.5,991.8 1449.5,992.2 1450.5,992.5 1451.5,992.4 1452.5,992.8 1453.5,992.7 1454.5,992.4 1455.5,992.9 1456.5,993.1 1457.5,992.8 1458.5,993.0 1459.5,993.2 1460.5,993.1 1461.5,992.7 1462.5,993.1 1463.5,993.6 1464.5,993.7 1465.5,993.0 1466.5,993.5 1467.5,993.7 1468.5,993.7 1469.5,993.3 1470.5,994.0 1471.5,994.1 1472.5,994.0 1473.5,994.5 1474.5,994.1 1475.5,993.5 1476.5,993.9 1477.5,994.4 1478.5,993.8 1479.5,994.9 1480.5,994.6 1481.5,994.7 1482.5,994.1 1483.5,993.9 1484.5,995.0 1485.5,994.7 1486.5,994.6 1487.5,994.8 1488.5,995.1 1489.5,994.7 1490.5,995.3 1491.5,994.6 1492.5,995.6 1493.5,995.3 1494.5,994.9 1495.5,995.2 1496.5,995.7 1497.5,995.1 1498.5,995.6 1499.5,995.9 1500.5,996.1 1501.5,995.3 1502.5,996.0 1503.5,995.8 1504.5,996.1 1505.5,995.3 1506.5,995.7 1507.5,995.8 1508.5,996.3 1509.5,996.0 1510.5,995.5 1511.5,995.8 1512.5,996.6 1513.5,996.7 1514.5,996.4 1515.5,995.9 1516.5,996.7 1517.5,996.9 1518.5,996.3 1519.5,996.6 1520.5,996.4 1521.5,996.2 1522.5,997.0 1523.5,996.4 1524.5,996.4 1525.5,997.4 1526.5,996.5 1527.5,997.4 1528.5,997.5 1529.5,996.9 1530.5,997.1 1531.5,996.9 1532.5,997.6 1533.5,997.9 1534.5,997.7 1535.5,997.5 1536.5,997.6 1537.5,997.5 1538.5,997.9 1539.5,997.4 1540.5,997.5 1541.5,998.1 1542.5,997.6 1543.5,998.5 1544.5,998.3 1545.5,997.7 1546.5,997.5 1547.5,998.3 1548.5,997.8 1549.5,998.3 1550.5,998.5 1551.5,998.8 1552.5,998.3 1553.5,998.6 1554.5,999.0 1555.5,998.2 1556.5,998.5 1557.5,999.1 1558.5,998.6 1559.5,999.4 1560.5,998.4 1561.5,998.5 1562.5,998.9 1563.5,999.0 1564.5,999.0 1565.5,998.9 1566.5,999.2 1567.5,999.8 1568.5,999.9 1569.5,999.6 1570.5,999.2" fill="none" stroke="#000" stroke-width="3.2" stroke-linejoin="round" />
<line x1="1247.6" y1="638.8" x2="1247.6" y2="1104.9" stroke="#1a1a5e" stroke-width="3.3" stroke-dasharray="15.7 16.5" stroke-linecap="round"/>
<line x1="1183.7" y1="992.4" x2="1220" y2="1015.5" stroke="#1c1c6a" stroke-width="2.6" stroke-linecap="round"/>
<polygon points="1232.6,1024 1213.9,1017.6 1219.7,1009.7" fill="#3346a8"/>
</svg>
</body></html>
